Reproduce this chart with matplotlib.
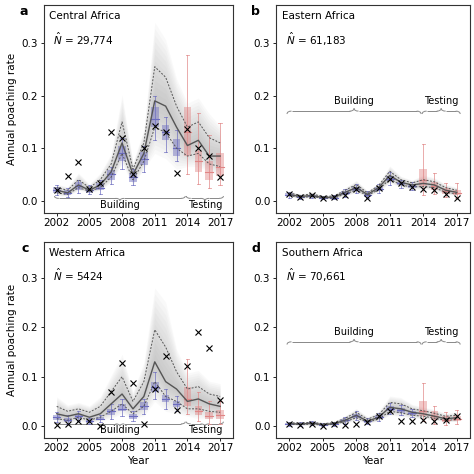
import numpy as np
import matplotlib
matplotlib.use('Agg')
import matplotlib.pyplot as plt
from matplotlib.path import Path
from matplotlib.patches import PathPatch, Rectangle

years = list(range(2002, 2018))
titles = ['Central Africa', 'Eastern Africa', 'Western Africa', 'Southern Africa']
n_hat = ['29,774', '61,183', '5424', '70,661']
letters = ['a', 'b', 'c', 'd']

# median line, dashed upper / lower
line_a = [.02, .015, .03, .02, .03, .055, .11, .05, .09, .19, .18, .14, .105, .115, .085, .085]
up_a = [.025, .02, .04, .025, .04, .07, .15, .06, .11, .255, .235, .18, .14, .15, .12, .11]
lo_a = [.015, .012, .025, .018, .025, .045, .09, .04, .075, .14, .13, .10, .085, .09, .07, .065]
line_b = [.012, .008, .01, .006, .007, .016, .025, .012, .025, .048, .035, .03, .033, .03, .02, .016]
up_b = [.015, .01, .013, .008, .009, .02, .031, .015, .029, .056, .04, .034, .04, .036, .025, .02]
lo_b = [.01, .006, .008, .005, .005, .013, .02, .01, .021, .041, .03, .026, .027, .025, .016, .013]
line_c = [.025, .02, .025, .018, .025, .045, .065, .035, .06, .13, .09, .075, .05, .055, .045, .04]
up_c = [.04, .03, .035, .028, .04, .07, .10, .05, .09, .195, .16, .11, .075, .08, .065, .06]
lo_c = [.015, .012, .018, .012, .018, .03, .045, .025, .04, .09, .06, .05, .035, .035, .03, .028]
line_d = [.005, .004, .006, .003, .005, .012, .022, .01, .018, .038, .035, .028, .025, .02, .015, .017]
up_d = [.007, .006, .008, .005, .007, .016, .028, .014, .023, .048, .045, .035, .031, .026, .02, .022]
lo_d = [.004, .003, .004, .002, .004, .009, .017, .008, .014, .03, .027, .022, .02, .016, .012, .013]

# boxes: median, q1, q3, whisker low, whisker high
med_a = [.02, .015, .028, .02, .025, .05, .09, .045, .08, .155, .13, .10, .13, .075, .055, .065]
q1_a = [.015, .01, .02, .015, .02, .04, .075, .035, .068, .14, .115, .085, .085, .055, .04, .048]
q3_a = [.027, .02, .035, .025, .033, .058, .105, .053, .092, .178, .145, .118, .178, .095, .075, .09]
wl_a = [.01, .007, .015, .012, .013, .032, .06, .03, .055, .115, .093, .075, .05, .032, .025, .03]
wh_a = [.03, .025, .04, .03, .04, .065, .12, .06, .105, .2, .16, .135, .278, .167, .125, .148]
med_b = [.011, .007, .009, .006, .006, .014, .022, .011, .023, .042, .033, .028, .04, .028, .018, .015]
q1_b = [.009, .005, .007, .004, .005, .011, .018, .008, .019, .037, .03, .025, .028, .02, .012, .01]
q3_b = [.014, .009, .011, .007, .008, .018, .027, .014, .027, .048, .036, .031, .06, .035, .025, .02]
wl_b = [.006, .003, .005, .003, .003, .008, .014, .005, .015, .03, .025, .021, .01, .012, .008, .005]
wh_b = [.017, .011, .013, .009, .01, .022, .032, .018, .031, .055, .04, .035, .107, .053, .033, .033]
med_c = [.018, .012, .02, .01, .015, .03, .035, .02, .04, .08, .055, .045, .055, .03, .02, .022]
q1_c = [.013, .008, .015, .007, .012, .022, .03, .015, .033, .07, .048, .038, .04, .022, .015, .015]
q3_c = [.022, .017, .025, .013, .019, .035, .045, .025, .048, .09, .062, .05, .08, .04, .028, .032]
wl_c = [.008, .004, .01, .004, .008, .015, .02, .01, .025, .055, .035, .03, .025, .01, .005, .005]
wh_c = [.028, .022, .03, .016, .022, .045, .055, .03, .055, .11, .075, .06, .135, .07, .05, .05]
med_d = [.005, .004, .006, .003, .005, .012, .02, .01, .018, .035, .032, .026, .03, .02, .013, .015]
q1_d = [.003, .002, .004, .002, .003, .009, .016, .007, .014, .03, .027, .022, .02, .012, .008, .01]
q3_d = [.007, .006, .008, .005, .007, .015, .025, .013, .022, .04, .036, .03, .05, .03, .02, .02]
wl_d = [.001, .001, .002, .001, .001, .005, .012, .004, .01, .024, .022, .018, .01, .005, .002, .005]
wh_d = [.009, .008, .011, .007, .009, .019, .03, .016, .026, .047, .042, .035, .087, .04, .028, .033]

# observed rates (crosses)
obs_a = [.02, .047, .073, .022, .033, .13, .12, .05, .10, .142, .13, .052, .137, .10, .085, .045]
obs_b = [.012, .007, .01, .005, .007, .01, .022, .006, .024, .042, .033, .027, .022, .02, .012, .006]
obs_c = [.003, .005, .01, .01, 0, .07, .127, .087, .004, .075, .142, .033, .122, .19, .158, .053]
obs_d = [.005, .002, .005, .001, .004, .003, .005, .008, .02, .03, .01, .011, .012, .01, .013, .02]

panels = [
    (line_a, up_a, lo_a, med_a, q1_a, q3_a, wl_a, wh_a, obs_a),
    (line_b, up_b, lo_b, med_b, q1_b, q3_b, wl_b, wh_b, obs_b),
    (line_c, up_c, lo_c, med_c, q1_c, q3_c, wl_c, wh_c, obs_c),
    (line_d, up_d, lo_d, med_d, q1_d, q3_d, wl_d, wh_d, obs_d),
]
positions = [[0.092, 0.551, 0.400, 0.438], [0.582, 0.551, 0.410, 0.438],
             [0.092, 0.077, 0.400, 0.412], [0.582, 0.077, 0.410, 0.412]]


def brace(ax, x0, x1, y, h, up):
    # curly brace drawn from quadratic pieces; up=True means tip points upward
    s = 1 if up else -1
    xm = (x0 + x1) / 2
    yb = y + s * h
    pieces = [
        ([(x0, y), (x0, yb), (x0 + 0.4, yb)], [Path.MOVETO, Path.CURVE3, Path.CURVE3]),
        ([(x0 + 0.4, yb), (xm - 0.4, yb)], [Path.MOVETO, Path.LINETO]),
        ([(xm - 0.4, yb), (xm, yb), (xm, y + 2 * s * h)], [Path.MOVETO, Path.CURVE3, Path.CURVE3]),
        ([(xm, y + 2 * s * h), (xm, yb), (xm + 0.4, yb)], [Path.MOVETO, Path.CURVE3, Path.CURVE3]),
        ([(xm + 0.4, yb), (x1 - 0.4, yb)], [Path.MOVETO, Path.LINETO]),
        ([(x1 - 0.4, yb), (x1, yb), (x1, y)], [Path.MOVETO, Path.CURVE3, Path.CURVE3]),
    ]
    for v, c in pieces:
        ax.add_patch(PathPatch(Path(v, c), fc='none', ec='#888888', lw=0.7))


fig = plt.figure(figsize=(4.74, 4.74), dpi=100)
x = np.array(years)
for i, (line, up, lo, med, q1, q3, wl, wh, obs) in enumerate(panels):
    ax = fig.add_axes(positions[i])
    line, up, lo = np.array(line), np.array(up), np.array(lo)
    # grey posterior fan
    for f in np.linspace(2.0, 0.2, 12):
        ax.fill_between(x, line - f * (line - lo), line + f * (up - line) * 1.15,
                        color='#999999', alpha=0.05, lw=0)
    for j, yr in enumerate(years):
        col = '#6b6bbf' if yr < 2014 else '#e08585'
        ax.add_patch(Rectangle((yr - 0.35, q1[j]), 0.7, q3[j] - q1[j], fc=col, alpha=0.45, lw=0))
        ax.plot([yr - 0.35, yr + 0.35], [med[j]] * 2, color=col, lw=0.8)
        ax.plot([yr, yr], [wl[j], wh[j]], color=col, lw=0.6, alpha=0.8)
        ax.plot([yr - 0.15, yr + 0.15], [wh[j]] * 2, color=col, lw=0.6, alpha=0.8)
        ax.plot([yr - 0.15, yr + 0.15], [wl[j]] * 2, color=col, lw=0.6, alpha=0.8)
    ax.plot(x, line, color='#555555', lw=1.0)
    ax.plot(x, up, color='#555555', lw=0.7, ls=(0, (2, 1.5)))
    ax.plot(x, lo, color='#555555', lw=0.7, ls=(0, (2, 1.5)))
    ax.plot(x, obs, 'x', color='black', ms=4, mew=0.8)

    if i in (0, 2):
        brace(ax, 2001.8, 2013.8, 0.009, 0.0045, up=False)
        brace(ax, 2013.9, 2017.3, 0.009, 0.0045, up=False)
        ax.text(2007.8, -0.008, 'Building', ha='center', va='center', fontsize=7)
        ax.text(2015.6, -0.008, 'Testing', ha='center', va='center', fontsize=7)
    else:
        brace(ax, 2001.8, 2013.8, 0.165, 0.0055, up=True)
        brace(ax, 2013.9, 2017.3, 0.165, 0.0055, up=True)
        ax.text(2007.8, 0.19, 'Building', ha='center', va='center', fontsize=7)
        ax.text(2015.6, 0.19, 'Testing', ha='center', va='center', fontsize=7)

    ax.set_xlim(2000.8, 2018.2)
    ax.set_ylim(-0.023, 0.372)
    ax.set_xticks([2002, 2005, 2008, 2011, 2014, 2017])
    ax.set_yticks([0.0, 0.1, 0.2, 0.3])
    ax.set_yticklabels(['0.0', '0.1', '0.2', '0.3'])
    ax.tick_params(labelsize=7.5, length=2, width=0.6, pad=2)
    for sp in ax.spines.values():
        sp.set_linewidth(0.8)
        sp.set_color('#333333')
    ax.text(0.03, 0.97, titles[i], transform=ax.transAxes, ha='left', va='top', fontsize=7.5)
    ax.text(0.05, 0.875, r'$\hat{N}$ = ' + n_hat[i], transform=ax.transAxes,
            ha='left', va='top', fontsize=7.5)
    ax.text(-0.08, 1.0, letters[i], transform=ax.transAxes,
            ha='right', va='top', fontsize=9, fontweight='bold')
    if i % 2 == 0:
        ax.set_ylabel('Annual poaching rate', fontsize=7.5, labelpad=3)
    if i >= 2:
        ax.set_xlabel('Year', fontsize=7.5, labelpad=2)

fig.savefig('out.png', dpi=100)
